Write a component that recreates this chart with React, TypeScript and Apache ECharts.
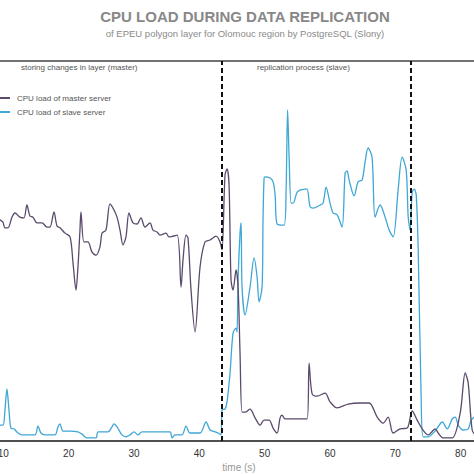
import React, { useEffect, useRef } from "react";
import * as echarts from "echarts";

const titleText = "CPU LOAD DURING DATA REPLICATION";
const subtitleText = "of EPEU polygon layer for Olomouc region by PostgreSQL (Slony)";
const phaseLabels = ["storing changes in layer (master)", "replication process (slave)"];
const seriesNames = ["CPU load of master server", "CPU load of slave server"];
const phaseBoundaries = [43.48, 72.42];
const xTicks = [0, 10, 20, 30, 40, 50, 60, 70, 80, 90];

const masterT = [9.17, 9.48, 9.94, 10.25, 10.7, 11.32, 11.78, 12.54, 13.15, 13.61, 14.07, 14.53, 15.15, 15.92, 16.68, 17.14, 17.75, 18.21, 18.67, 19.44, 20.21, 20.67, 21.12, 21.42, 21.73, 21.88, 22.34, 22.95, 23.57, 24.18, 24.79, 25.1, 25.71, 26.32, 26.94, 27.4, 27.86, 28.31, 28.77, 29.23, 29.85, 30.46, 31.07, 31.68, 32.45, 32.91, 33.52, 33.98, 34.9, 35.36, 36.6, 37.2, 37.5, 37.96, 38.27, 38.73, 39.34, 40.11, 40.87, 41.64, 42.56, 43.17, 43.47, 43.93, 44.24, 44.55, 44.85, 45.16, 45.62, 45.93, 46.23, 46.54, 47.0, 47.76, 48.53, 49.3, 49.91, 50.68, 51.29, 51.9, 52.36, 52.67, 53.12, 56.49, 56.8, 57.26, 58.02, 59.25, 60.01, 61.09, 62.77, 64.61, 65.99, 67.22, 68.14, 68.9, 69.67, 70.74, 71.81, 72.58, 73.34, 74.11, 75.03, 76.1, 76.56, 77.33, 78.7, 79.93, 80.69, 81.15, 81.76, 82.38];
const masterV = [58.4, 58.2, 57.6, 56.1, 56.1, 58.9, 60.0, 58.9, 58.7, 62.1, 59.2, 58.9, 57.4, 57.4, 56.3, 56.3, 60.3, 56.6, 56.1, 54.7, 53.7, 46.8, 39.7, 45.8, 55.5, 60.3, 52.4, 52.4, 49.7, 48.9, 51.1, 54.7, 55.5, 62.4, 60.8, 58.9, 55.5, 51.6, 53.7, 60.0, 57.4, 57.1, 58.7, 56.3, 57.4, 55.5, 55.0, 54.2, 54.7, 53.7, 54.2, 40.5, 47.6, 54.2, 53.4, 39.7, 28.7, 45.8, 52.4, 52.9, 53.9, 52.4, 50.3, 70.0, 71.6, 67.4, 42.4, 39.7, 45.0, 40.5, 23.2, 7.6, 7.6, 8.4, 6.1, 4.2, 5.5, 5.5, 3.4, 2.1, 6.1, 6.8, 5.8, 5.8, 20.5, 12.4, 11.8, 12.6, 10.3, 8.7, 9.7, 10.0, 10.0, 6.3, 4.7, 6.3, 2.1, 3.2, 3.4, 7.9, 5.5, 3.2, 1.6, 3.2, 2.1, 0.8, 0.8, 7.4, 17.9, 15.3, 2.9, 1.3];

const slaveT = [9.17, 9.94, 10.25, 10.55, 10.86, 11.16, 11.62, 12.24, 12.85, 14.84, 15.3, 15.76, 16.37, 17.9, 18.36, 18.67, 19.13, 20.2, 21.42, 22.04, 22.8, 24.18, 24.49, 26.02, 26.63, 26.94, 27.4, 28.16, 28.77, 29.39, 30.0, 30.61, 31.22, 35.51, 35.82, 36.28, 37.35, 37.96, 38.58, 40.11, 41.03, 41.64, 42.41, 42.87, 43.32, 43.47, 43.93, 44.24, 44.7, 45.16, 45.62, 45.77, 45.93, 46.23, 46.39, 46.54, 47.0, 47.76, 48.38, 48.84, 49.14, 49.6, 49.75, 49.91, 50.06, 50.83, 51.29, 51.6, 51.9, 52.97, 53.28, 53.51, 53.74, 54.05, 54.36, 54.97, 55.58, 56.2, 56.5, 56.96, 57.42, 58.49, 58.95, 59.4, 60.01, 60.47, 61.09, 61.85, 62.31, 62.62, 62.92, 63.69, 64.3, 64.91, 65.37, 65.83, 66.44, 66.9, 67.67, 68.44, 69.05, 69.67, 70.43, 71.04, 71.66, 71.97, 72.27, 72.58, 72.89, 73.2, 73.5, 73.96, 74.27, 75.03, 75.8, 76.41, 77.18, 77.94, 78.71, 79.17, 79.63, 80.39, 81.15, 81.61, 82.38];
const slaveV = [4.2, 4.2, 8.2, 13.7, 8.2, 3.4, 3.2, 2.1, 1.6, 1.6, 3.9, 2.1, 1.6, 1.6, 3.7, 4.5, 2.6, 2.6, 2.4, 1.8, 0.8, 0.8, 2.4, 2.4, 3.7, 4.5, 3.7, 1.6, 1.1, 1.6, 2.4, 1.6, 2.4, 2.4, 0.8, 1.6, 1.6, 3.9, 2.1, 2.1, 5.0, 2.9, 2.4, 2.1, 1.6, 8.2, 8.4, 10.3, 17.9, 28.4, 29.7, 28.7, 42.4, 54.7, 57.4, 40.5, 33.2, 40.5, 48.2, 43.2, 36.6, 40.5, 58.2, 69.2, 69.5, 69.2, 68.2, 64.7, 57.1, 56.8, 66.1, 87.1, 74.7, 62.6, 62.6, 65.5, 66.1, 66.3, 66.3, 61.6, 61.3, 62.1, 62.6, 66.8, 62.6, 60.0, 59.5, 56.3, 70.5, 71.1, 68.7, 64.5, 68.2, 68.7, 73.4, 77.1, 74.7, 58.9, 62.1, 58.9, 55.5, 53.7, 66.1, 74.7, 71.3, 58.9, 55.5, 65.5, 66.3, 64.7, 50.3, 10.8, 1.1, 1.1, 2.1, 3.4, 5.0, 3.2, 5.8, 6.3, 4.2, 2.9, 3.2, 5.5, 6.8];

const FONT = "Liberation Sans, Arial, sans-serif";

export default function App() {
  const ref = useRef<HTMLDivElement>(null);
  useEffect(() => {
    if (!ref.current) return;
    const chart = echarts.init(ref.current, undefined, { renderer: "svg" });
    const masterData = masterT.map((t, i) => [t, masterV[i]]);
    const slaveData = slaveT.map((t, i) => [t, slaveV[i]]);
    chart.setOption({
      animation: false,
      backgroundColor: "#ffffff",
      textStyle: { fontFamily: FONT },
      grid: {
        left: -62,
        right: -52,
        top: 61,
        bottom: 33,
        show: true,
        borderColor: "#444",
        borderWidth: 1.5,
        containLabel: false,
        outerBoundsMode: "none",
      },
      legend: {
        orient: "vertical",
        left: -9,
        top: 89,
        itemWidth: 14,
        itemHeight: 2,
        itemGap: 6,
        icon: "rect",
        data: seriesNames,
        textStyle: { fontSize: 8, color: "#555", fontFamily: FONT, padding: [0, 0, 0, 2] },
      },
      xAxis: {
        type: "value",
        min: xTicks[0],
        max: xTicks[xTicks.length - 1],
        interval: 10,
        name: "time (s)",
        nameLocation: "middle",
        nameGap: 16,
        nameTextStyle: { color: "#999", fontSize: 10, fontFamily: FONT, padding: [0, 0, 0, 14] },
        axisLine: { lineStyle: { color: "#444", width: 1.5 } },
        axisTick: { show: false },
        splitLine: { show: false },
        axisLabel: { color: "#333", fontSize: 10, margin: 7, fontFamily: FONT, showMinLabel: false, showMaxLabel: false },
      },
      yAxis: { type: "value", min: 0, max: 100, show: false, splitLine: { show: false } },
      graphic: [
        {
          type: "text",
          x: 245,
          y: 16,
          style: { text: titleText, fill: "#888", font: "bold 15px " + FONT, textAlign: "center", textVerticalAlign: "middle" },
        },
        {
          type: "text",
          x: 245,
          y: 33,
          style: { text: subtitleText, fill: "#8a8a8a", font: "9.5px " + FONT, textAlign: "center", textVerticalAlign: "middle" },
        },
        {
          type: "text",
          x: 21,
          y: 67,
          style: { text: phaseLabels[0], fill: "#555", font: "8px " + FONT, textAlign: "left", textVerticalAlign: "middle" },
        },
        {
          type: "text",
          x: 257,
          y: 67,
          style: { text: phaseLabels[1], fill: "#555", font: "8px " + FONT, textAlign: "left", textVerticalAlign: "middle" },
        },
      ],
      series: [
        {
          name: seriesNames[0],
          type: "line",
          data: masterData,
          showSymbol: false,
          smooth: 0.3,
          color: "#5b4a6b",
          lineStyle: { color: "#5b4a6b", width: 1.3 },
          z: 3,
          markLine: {
            silent: true,
            symbol: "none",
            label: { show: false },
            lineStyle: { color: "#111", width: 2, type: [5, 3] },
            data: phaseBoundaries.map((x) => ({ xAxis: x })),
          },
        },
        {
          name: seriesNames[1],
          type: "line",
          data: slaveData,
          showSymbol: false,
          smooth: 0.3,
          color: "#3fa7d6",
          lineStyle: { color: "#3fa7d6", width: 1.3 },
          z: 2,
        },
      ],
    });
    return () => chart.dispose();
  }, []);
  return <div ref={ref} style={{ width: 474, height: 474, position: "absolute", left: 0, top: 0 }} />;
}
